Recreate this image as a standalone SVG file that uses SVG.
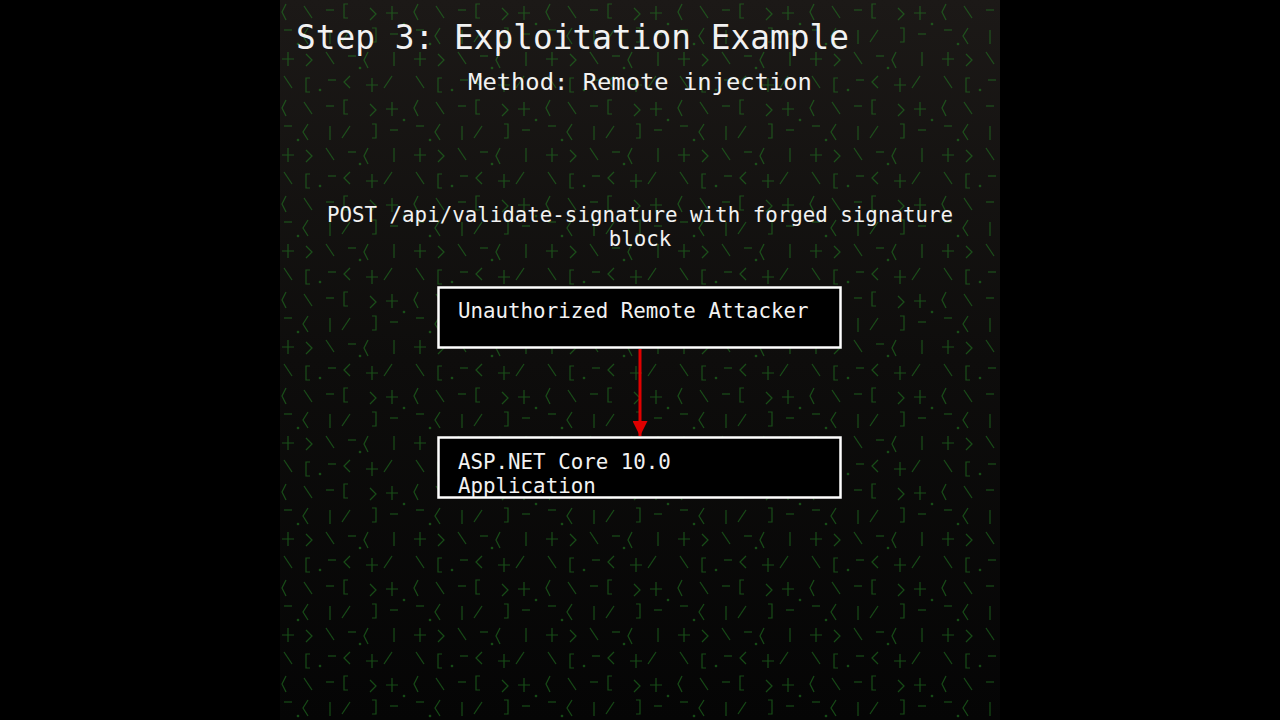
<svg xmlns="http://www.w3.org/2000/svg" width="1280" height="720" viewBox="0 0 1280 720">
<defs>
<linearGradient id="bg" x1="0" y1="0" x2="0" y2="1">
<stop offset="0" stop-color="#1c1917"/>
<stop offset="0.5" stop-color="#0e0d0c"/>
<stop offset="1" stop-color="#050505"/>
</linearGradient>
<pattern id="rain" x="280" y="0" width="132" height="96" patternUnits="userSpaceOnUse">
<g fill="none" stroke="#1f7a1f" stroke-width="1.2" stroke-opacity="0.6">
<path d="M6 4 l-4 8 l4 8"/><path d="M24 6 l8 12"/><path d="M46 10 h8"/><path d="M68 4 l-4 0 v14 h4"/><path d="M90 8 l6 6 l-6 6"/><path d="M112 6 v14 M106 13 h12"/>
<path d="M4 30 h8"/><path d="M28 28 l-5 8 l5 8"/><path d="M50 30 v14"/><path d="M70 30 l-8 12"/><path d="M92 28 l4 0 v14 h-4"/><path d="M110 34 h8"/>
<path d="M8 52 v14 M2 59 h12"/><path d="M26 54 l6 6 l-6 6"/><path d="M46 52 l8 12"/><path d="M68 56 h8"/><path d="M88 52 l-4 8 l4 8"/><path d="M114 52 v14"/>
<path d="M4 76 l8 12"/><path d="M30 78 h-4 v14 h4"/><path d="M48 80 h8"/><path d="M70 76 l-6 6 l6 6"/><path d="M92 78 v14 M86 85 h12"/><path d="M112 76 l-8 12"/>
</g>
<g fill="#1f7a1f" fill-opacity="0.6"><circle cx="18" cy="44" r="1.3"/><circle cx="80" cy="68" r="1.3"/><circle cx="124" cy="24" r="1.3"/><circle cx="40" cy="90" r="1.3"/></g>
</pattern>
<marker id="arrow" viewBox="0 0 10 10" refX="10" refY="5" markerWidth="5" markerHeight="5" markerUnits="strokeWidth" orient="auto">
<path d="M0 0 L10 5 L0 10 z" fill="#e00000"/>
</marker>
<style>
.mono{font-family:"DejaVu Sans Mono","Liberation Mono",monospace;fill:#f2f2f2}
.box{fill:#000;stroke:#ffffff;stroke-width:2.5}
.edge{stroke:#e00000;stroke-width:3;fill:none}
</style>
</defs>
<rect x="0" y="0" width="1280" height="720" fill="#000"/>
<g id="background">
<rect x="280" y="0" width="720" height="720" fill="url(#bg)"/>
<rect x="280" y="0" width="720" height="720" fill="url(#rain)"/>
</g>
<g id="titles">
<text class="mono" x="296" y="49" font-size="32.8">Step 3: Exploitation Example</text>
<text class="mono" x="640" y="90" font-size="23.8" text-anchor="middle">Method: Remote injection</text>
<text class="mono" x="640" y="222" font-size="20.8" text-anchor="middle">POST /api/validate-signature with forged signature</text>
<text class="mono" x="640" y="246" font-size="20.8" text-anchor="middle">block</text>
</g>
<g id="connectors">
<line class="edge" x1="640" y1="349" x2="640" y2="436" marker-end="url(#arrow)"/>
</g>
<g id="node-attacker">
<rect class="box" x="438.5" y="287.5" width="402" height="60"/>
<text class="mono" x="458" y="318" font-size="20.8">Unauthorized Remote Attacker</text>
</g>
<g id="node-app">
<rect class="box" x="438.5" y="437.5" width="402" height="60"/>
<text class="mono" x="458" y="469" font-size="20.8">ASP.NET Core 10.0</text>
<text class="mono" x="458" y="493" font-size="20.8">Application</text>
</g>
</svg>
